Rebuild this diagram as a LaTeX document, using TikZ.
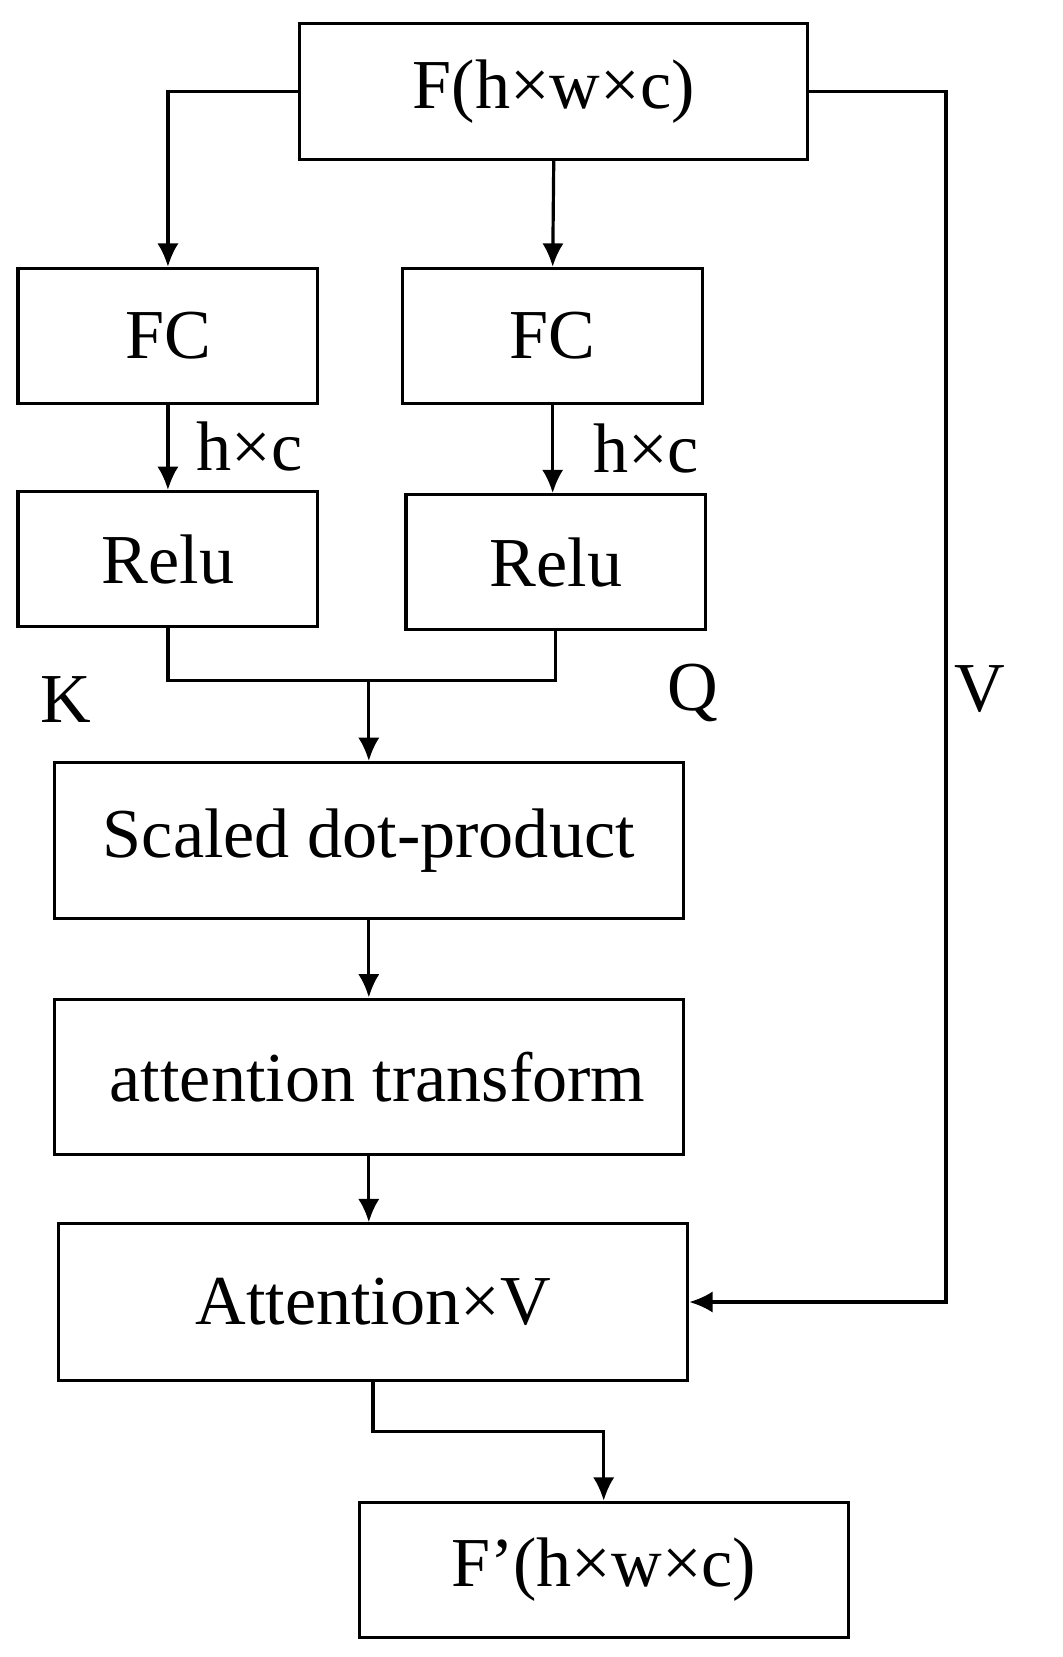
\documentclass[tikz,border=0pt]{standalone}
\usepackage{fontspec}
\setmainfont{Liberation Serif}
\usetikzlibrary{positioning}
\tikzset{
  box/.style={draw,line width=3pt,inner sep=0pt,font=\fontsize{66}{70}\selectfont},
  lab/.style={font=\fontsize{66}{70}\selectfont,inner sep=0pt},
  arr/.style={line width=3pt,-{Latex[length=22pt,width=20pt]}},
  ln/.style={line width=3pt}
}
\usetikzlibrary{arrows.meta}
\begin{document}
\begin{tikzpicture}[x=1pt,y=-1pt]
\useasboundingbox (0,0) rectangle (1000,1559);
\node[box,minimum width=478,minimum height=128] (f) at (521,86) {F(h×w×c)};
\node[box,minimum width=282,minimum height=127] (fc1) at (158,316) {FC};
\node[box,minimum width=282,minimum height=127] (fc2) at (520,316) {FC};
\node[box,minimum width=282,minimum height=127] (re1) at (158,526) {Relu};
\node[box,minimum width=282,minimum height=127] (re2) at (523,529) {Relu};
\node[box,minimum width=592,minimum height=147] (sc) at (347,791) {Scaled dot-product};
\node[box,minimum width=592,minimum height=146] (at) at (347,1013) {\ attention transform};
\node[box,minimum width=592,minimum height=147] (av) at (351,1225) {Attention×V};
\node[box,minimum width=460,minimum height=127] (fo) at (568,1477) {F'(h×w×c)};
\node[lab] (k) at (62,658) {K};
\node[lab] (q) at (652,652) {Q};
\node[lab] (v) at (922,648) {V};
\node[lab] (hc1) at (235,420) {h×c};
\node[lab] (hc2) at (608,422) {h×c};
% connections
\draw[arr] (f.west) -| (fc1.north);
\draw[arr] (f.south) -- (fc2.north);
\draw[arr] (f.east) -| (890,1225) -- (av.east);
\draw[arr] (fc1) -- (re1);
\draw[arr] (fc2.south) -- (fc2.south |- re2.north);
\coordinate (m) at (347,640);
\draw[ln] (re1.south) |- (m) -| (re2.south);
\draw[arr] (m) -- (sc.north);
\draw[arr] (sc) -- (at);
\draw[arr] (at.south) -- (at.south |- av.north);
\draw[arr] (av.south) |- (568,1347) -- (fo.north);
\end{tikzpicture}
\end{document}
